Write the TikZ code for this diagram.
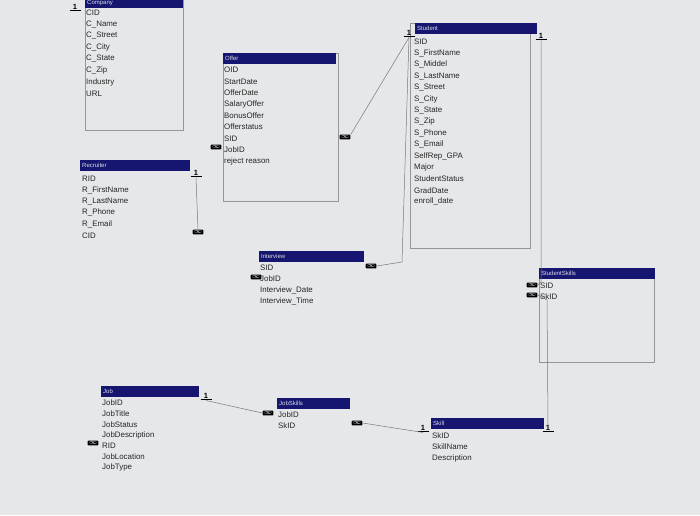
\documentclass[tikz,border=0pt]{standalone}
\usepackage{fontspec}
\setmainfont{Liberation Sans}
\definecolor{bgc}{RGB}{230,231,233}
\definecolor{navy}{RGB}{22,22,112}
\definecolor{boxc}{RGB}{150,150,152}
\definecolor{linec}{RGB}{120,120,122}
\tikzset{
  hdr/.style={fill=navy, text=white!85!navy, anchor=north west, inner xsep=2pt, inner ysep=0pt,
    minimum height=11pt, text height=5pt, text depth=1pt, align=left, font=\fontsize{6}{7}\selectfont},
  fld/.style={anchor=west, inner sep=0pt, font=\fontsize{7.9}{8}\selectfont, text=black!85},
  tbl/.style={draw=boxc, line width=0.5pt},
  onesym/.style={inner sep=0pt, font=\fontsize{7.5}{7.5}\selectfont\bfseries, align=center},
  manysym/.style={fill=black, text=white, inner xsep=1.5pt, inner ysep=0.8pt, rounded corners=0.8pt,
    font=\fontsize{7}{7}\selectfont},
  rel/.style={draw=linec, line width=0.5pt}
}
\newcommand{\onemark}{\shortstack{1\\[-3pt]\rule{11pt}{1.4pt}}}
\begin{document}
\begin{tikzpicture}[x=1pt,y=-1pt]
\useasboundingbox (0,0) rectangle (700,515);
\clip (0,0) rectangle (700,515);
\fill[bgc] (0,0) rectangle (700,515);

% ---------- boxes ----------
\draw[tbl] (85,-4) rectangle (183,130);
\draw[tbl] (223,53) rectangle (338,201);
\draw[tbl] (410,23) rectangle (530,248);
\draw[tbl] (539,268) rectangle (654,362);

% ---------- Company ----------
\node[hdr, text width=94pt] (com) at (85,-3) {Company};
\foreach \t [count=\i] in {CID,C\_Name,C\_Street,C\_City,C\_State,C\_Zip,Industry,URL}
  \node[fld] (com-\i) at (86,{13+11.5*(\i-1)}) {\t};

% ---------- Offer ----------
\node[hdr, text width=109pt] (off) at (223,53) {Offer};
\foreach \t [count=\i] in {OID,StartDate,OfferDate,SalaryOffer,BonusOffer,Offerstatus,SID,JobID,reject reason}
  \node[fld] (off-\i) at (224,{70+11.4*(\i-1)}) {\t};

% ---------- Student ----------
\node[hdr, text width=118pt] (stu) at (415,23) {Student};
\foreach \t [count=\i] in {SID,S\_FirstName,S\_Middel,S\_LastName,S\_Street,S\_City,S\_State,S\_Zip,S\_Phone,S\_Email,SelfRep\_GPA,Major,StudentStatus,GradDate,enroll\_date}
  \node[fld] (stu-\i) at (414,{42+11.4*(\i-1)}) {\t};

% ---------- Recruiter ----------
\node[hdr, text width=106pt] (rec) at (80,160) {Recruiter};
\foreach \t [count=\i] in {RID,R\_FirstName,R\_LastName,R\_Phone,R\_Email,CID}
  \node[fld] (rec-\i) at (82,{179+11.3*(\i-1)}) {\t};

% ---------- Interview ----------
\node[hdr, text width=101pt] (int) at (259,251) {Interview};
\foreach \t [count=\i] in {SID,JobID,Interview\_Date,Interview\_Time}
  \node[fld] (int-\i) at (260,{268+11*(\i-1)}) {\t};

% ---------- StudentSkills ----------
\node[hdr, text width=112pt] (ss) at (539,268) {StudentSkills};
\foreach \t [count=\i] in {SID,SkID}
  \node[fld] (ss-\i) at (540,{286+10.5*(\i-1)}) {\t};

% ---------- Job ----------
\node[hdr, text width=94pt] (job) at (101,386) {Job};
\foreach \t [count=\i] in {JobID,JobTitle,JobStatus,JobDescription,RID,JobLocation,JobType}
  \node[fld] (job-\i) at (102,{403+10.8*(\i-1)}) {\t};

% ---------- JobSkills ----------
\node[hdr, text width=69pt] (js) at (277,398) {JobSkills};
\foreach \t [count=\i] in {JobID,SkID}
  \node[fld] (js-\i) at (278,{415+11*(\i-1)}) {\t};

% ---------- Skill ----------
\node[hdr, text width=109pt] (skl) at (431,418) {Skill};
\foreach \t [count=\i] in {SkID,SkillName,Description}
  \node[fld] (skl-\i) at (432,{436+11*(\i-1)}) {\t};

% ---------- relationship markers ----------
\node[onesym] (comone) at (75,8) {\onemark};
\node[onesym] (recone) at (196,174) {\onemark};
\node[manysym] (recmany) at (198,232) {$\infty$};
\node[manysym] (offmanyl) at (216,147) {$\infty$};
\node[manysym] (offmanyr) at (345,137) {$\infty$};
\node[onesym] (stuonel) at (409,34) {\onemark};
\node[onesym] (stuoner) at (541,37) {\onemark};
\node[manysym] (intmanyr) at (371,266) {$\infty$};
\node[manysym] (intmanyl) at (256,277) {$\infty$};
\node[manysym] (ssmanya) at (532,285) {$\infty$};
\node[manysym] (ssmanyb) at (532,295) {$\infty$};
\node[onesym] (jobone) at (206,397) {\onemark};
\node[manysym] (jobmany) at (93,443) {$\infty$};
\node[manysym] (jsmanyl) at (268,413) {$\infty$};
\node[manysym] (jsmanyr) at (357,423) {$\infty$};
\node[onesym] (sklonel) at (423,429) {\onemark};
\node[onesym] (sklone r) at (548,429) {\onemark};

\coordinate (stubend) at (402,262);
\coordinate (ssbenda) at (541,282);
\coordinate (ssbendb) at (547,300);

% ---------- connectors ----------
\draw[rel] (offmanyr.north east) -- (stuonel.south);
\draw[rel] (stuonel.south) -- (stubend) -- (intmanyr.east);
\draw[rel] (stuoner.south) -- (ssbenda) -- (ssmanya.east);
\draw[rel] (sklone r.north) -- (ssbendb) -- (ssmanyb.east);
\draw[rel] (jobone.south) -- (jsmanyl.west);
\draw[rel] (jsmanyr.east) -- (sklonel.south);
\draw[rel] (recone.south) -- (recmany.north);
\end{tikzpicture}
\end{document}
